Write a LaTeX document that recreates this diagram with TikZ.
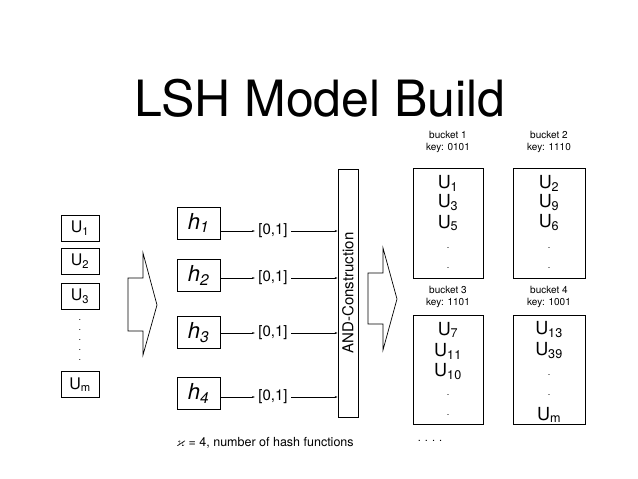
\documentclass[tikz,border=0pt]{standalone}
\usepackage{amssymb}
\usepackage{fontspec}
\setmainfont{TeX Gyre Heros}
\usetikzlibrary{arrows.meta}
\newcommand{\sbx}[1]{\textsubscript{#1}}
\begin{document}
\begin{tikzpicture}[x=1pt,y=-1pt,
  box/.style={draw,line width=0.8pt,inner sep=0pt},
  ub/.style={box,minimum width=38pt,minimum height=26pt,font=\fontsize{16}{16}\selectfont},
  hb/.style={box,minimum width=43pt,minimum height=32pt,font=\fontsize{22}{22}\selectfont\itshape},
  lab/.style={font=\fontsize{15}{15}\selectfont},
  bl/.style={font=\fontsize{10}{12}\selectfont,align=center},
  bu/.style={font=\fontsize{18}{18}\selectfont},
  dt/.style={font=\fontsize{9}{9}\selectfont},
  con/.style={-{Stealth[length=3pt,width=2pt]},line width=0.6pt},
  big/.style={draw,line width=0.7pt}]
\useasboundingbox (0,0) rectangle (638,479);
\node[font=\fontsize{50}{50}\selectfont] (title) at (320,98) {LSH Model Build};
% users
\node[ub] (u1) at (80,228) {U\sbx{1}};
\node[ub] (u2) at (80,261) {U\sbx{2}};
\node[ub] (u3) at (80,296) {U\sbx{3}};
\node[ub] (um) at (80,384.5) {U\sbx{m}};
\foreach \y in {320,330,340,350,360} \node[dt] at (80,\y) {.};
% big arrow 1
\draw[big] (128,278) -- (143,278) -- (143,253) -- (157,305) -- (143,355) -- (143,331) -- (128,331) -- cycle;
% hash functions
\node[hb] (h1) at (198.5,223) {h\sbx{1}};
\node[hb] (h2) at (198.5,275.5) {h\sbx{2}};
\node[hb] (h3) at (198.5,332.5) {h\sbx{3}};
\node[hb] (h4) at (198.5,393.5) {h\sbx{4}};
\node[box,minimum width=20pt,minimum height=248pt] (and) at (348,293) {};
\node[rotate=90,font=\fontsize{15}{15}\selectfont] (andl) at (348,293) {AND-Construction};
\foreach \i/\y in {1/231,2/278,3/333,4/397}{
  \node[lab] (l\i) at (273,\y) {[0,1]};
  \draw[con] (h\i.east |- 0,\y) -- (l\i.west);
  \draw[con] (l\i.east) -- (and.west |- 0,\y);
}
% big arrow 2
\draw[big] (368,273) -- (383,273) -- (383,248) -- (397,299) -- (383,350) -- (383,324) -- (368,324) -- cycle;
% buckets
\node[box,minimum width=70pt,minimum height=110pt] (b1) at (448,223) {};
\node[box,minimum width=72pt,minimum height=110pt] (b2) at (549,223) {};
\node[box,minimum width=70pt,minimum height=109pt] (b3) at (448,369.5) {};
\node[box,minimum width=72pt,minimum height=109pt] (b4) at (549,369.5) {};
\node[bl] (k1) at (448,142) {bucket 1\\key: 0101};
\node[bl] (k2) at (549,142) {bucket 2\\key: 1110};
\node[bl] (k3) at (448,297) {bucket 3\\key: 1101};
\node[bl] (k4) at (549,297) {bucket 4\\key: 1001};
\node[bu] at (448,183) {U\sbx{1}};
\node[bu] at (448,203) {U\sbx{3}};
\node[bu] at (448,223) {U\sbx{5}};
\node[dt] at (448,248) {.};
\node[dt] at (448,268) {.};
\node[bu] at (549,183) {U\sbx{2}};
\node[bu] at (549,203) {U\sbx{9}};
\node[bu] at (549,223) {U\sbx{6}};
\node[dt] at (549,248) {.};
\node[dt] at (549,268) {.};
\node[bu] at (448,330) {U\sbx{7}};
\node[bu] at (448,351) {U\sbx{11}};
\node[bu] at (448,372) {U\sbx{10}};
\node[dt] at (448,395) {.};
\node[dt] at (448,415) {.};
\node[bu] at (549,330) {U\sbx{13}};
\node[bu] at (549,351) {U\sbx{39}};
\node[dt] at (549,375) {.};
\node[dt] at (549,395) {.};
\node[bu] at (549,415) {U\sbx{m}};
\node[font=\fontsize{12.5}{12.5}\selectfont] (note) at (265,443) {$\varkappa$ = 4, number of hash functions};
\node[font=\fontsize{11}{11}\selectfont] (dots) at (430,441) {. . . .};
\end{tikzpicture}
\end{document}
